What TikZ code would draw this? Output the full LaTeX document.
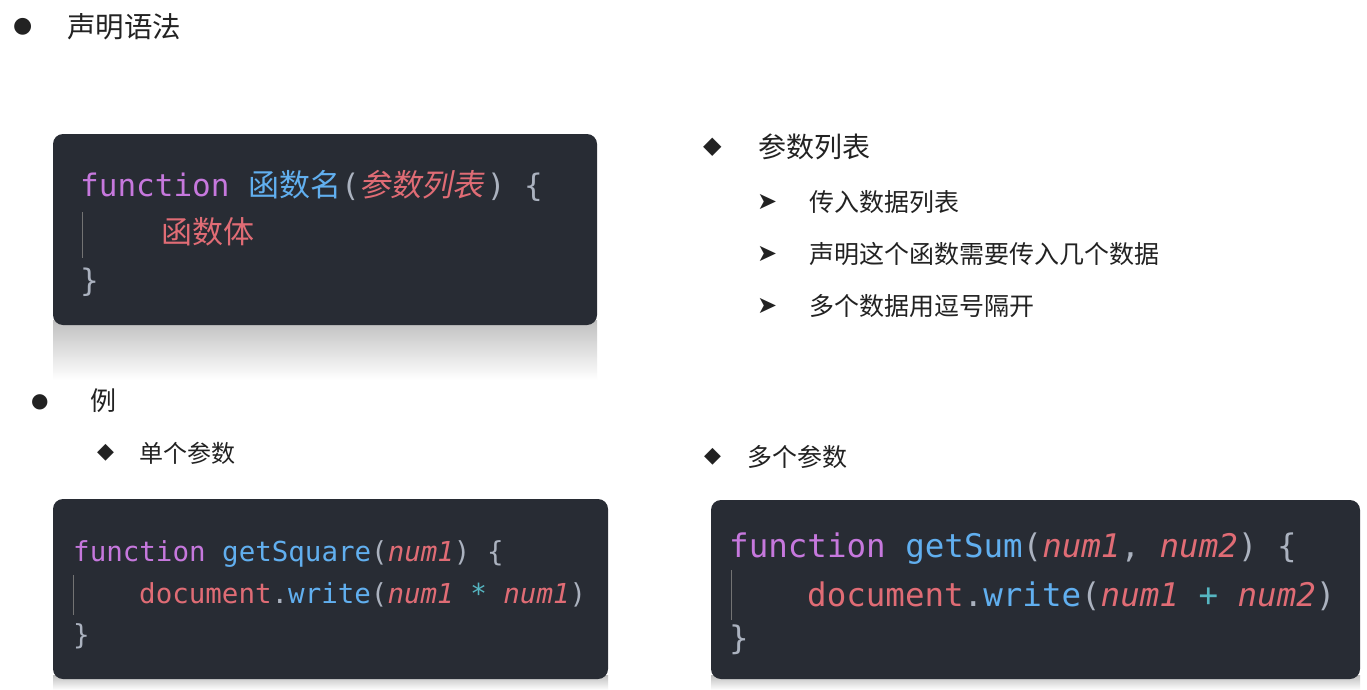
\documentclass[tikz,border=0pt]{standalone}
\usepackage{fontspec}
\newfontfamily\cjk{Noto Sans CJK SC}
\newfontfamily\cjkit[FakeSlant=0.2]{Noto Sans CJK SC}
\newfontfamily\code{DejaVu Sans Mono}
\newfontfamily\sym{DejaVu Sans}
\definecolor{bg}{HTML}{282C34}
\definecolor{kw}{HTML}{C678DD}
\definecolor{fn}{HTML}{61AFEF}
\definecolor{rd}{HTML}{E06C75}
\definecolor{br}{HTML}{ABB2BF}
\definecolor{op}{HTML}{56B6C2}
\definecolor{tx}{HTML}{222222}
\tikzset{
 box/.style={fill=bg,rounded corners=10pt,draw=none},
 refl/.style={top color=black!25,bottom color=white,draw=none},
 lbl/.style={anchor=west,inner sep=0pt,text=tx},
 cd/.style={anchor=west,inner sep=0pt,text=br},
 guide/.style={draw=black!55,line width=0.8pt}
}
\begin{document}
\begin{tikzpicture}[x=1pt,y=-1pt]
\useasboundingbox[fill=white] (0,0) rectangle (1367,690);
% headings
\node[lbl,font=\sym\fontsize{22}{22}\selectfont] (b1) at (13,27) {●};
\node[lbl,font=\cjk\fontsize{28.5}{28.5}\selectfont] (h1) at (67,27) {声明语法};
\node[lbl,font=\sym\fontsize{24}{24}\selectfont] (d1) at (703,147) {◆};
\node[lbl,font=\cjk\fontsize{28}{28}\selectfont] (h2) at (758,147) {参数列表};
\foreach \y/\t [count=\i] in {202/传入数据列表,254/声明这个函数需要传入几个数据,306/多个数据用逗号隔开}{
 \node[lbl,font=\sym\fontsize{24}{24}\selectfont] (a\i) at (757,\y) {➤};
 \node[lbl,font=\cjk\fontsize{25}{25}\selectfont] (t\i) at (809,\y) {\t};
}
\node[lbl,font=\sym\fontsize{20}{20}\selectfont] (b2) at (31,402) {●};
\node[lbl,font=\cjk\fontsize{26}{26}\selectfont] (h3) at (90,401) {例};
\node[lbl,font=\sym\fontsize{22}{22}\selectfont] (d2) at (97,453) {◆};
\node[lbl,font=\cjk\fontsize{24}{24}\selectfont] (h4) at (139,453) {单个参数};
\node[lbl,font=\sym\fontsize{22}{22}\selectfont] (d3) at (704,457) {◆};
\node[lbl,font=\cjk\fontsize{25}{25}\selectfont] (h5) at (747,457) {多个参数};
% box 1
\shade[refl] (53,320) rectangle (597,380);
\path[box] (53,134) rectangle (597,325);
\draw[guide] (82,212) -- (82,258);
\node[cd,font=\code\fontsize{31}{31}\selectfont] (c11) at (80,186) {\textcolor{kw}{function} \textcolor{fn}{\cjk 函数名}(\textcolor{rd}{\cjkit 参数列表\kern3pt}) \{};
\node[cd,font=\cjk\fontsize{31}{31}\selectfont,text=rd] (c12) at (161,232) {函数体};
\node[cd,font=\code\fontsize{31}{31}\selectfont] (c13) at (80,282) {\}};
% box 2
\shade[refl] (53,675) rectangle (608,690);
\path[box] (53,499) rectangle (608,679);
\draw[guide] (73,575) -- (73,615);
\node[cd,font=\code\fontsize{27.5}{27.5}\selectfont] (c21) at (73,554) {\textcolor{kw}{function} \textcolor{fn}{getSquare}(\textcolor{rd}{\itshape num1}) \{};
\node[cd,font=\code\fontsize{27.5}{27.5}\selectfont] (c22) at (139,595) {\textcolor{rd}{document}.\textcolor{fn}{write}(\textcolor{rd}{\itshape num1} \textcolor{op}{*} \textcolor{rd}{\itshape num1})};
\node[cd,font=\code\fontsize{27.5}{27.5}\selectfont] (c23) at (73,636) {\}};
% box 3
\shade[refl] (711,675) rectangle (1360,690);
\path[box] (711,500) rectangle (1360,679);
\draw[guide] (731,570) -- (731,620);
\node[cd,font=\code\fontsize{32.5}{32.5}\selectfont] (c31) at (729,549) {\textcolor{kw}{function} \textcolor{fn}{getSum}(\textcolor{rd}{\itshape num1}, \textcolor{rd}{\itshape num2}) \{};
\node[cd,font=\code\fontsize{32.5}{32.5}\selectfont] (c32) at (807,596) {\textcolor{rd}{document}.\textcolor{fn}{write}(\textcolor{rd}{\itshape num1} \textcolor{op}{+} \textcolor{rd}{\itshape num2})};
\node[cd,font=\code\fontsize{32.5}{32.5}\selectfont] (c33) at (729,640) {\}};
\end{tikzpicture}
\end{document}
